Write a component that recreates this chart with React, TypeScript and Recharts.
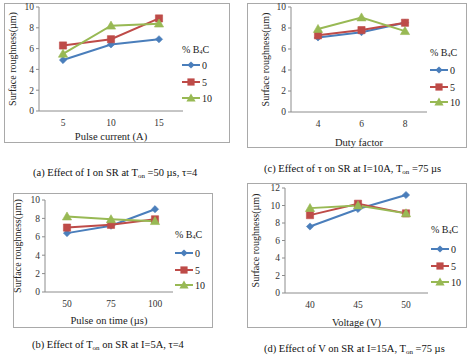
import React from "react";
import { LineChart, Line, XAxis, YAxis } from "recharts";

// % B4C levels
const seriesNames = ["0", "5", "10"];

const currentTicks = ["5", "10", "15"];
const current0 = [4.9, 6.4, 6.9];
const current5 = [6.3, 6.9, 8.9];
const current10 = [5.5, 8.2, 8.4];

const dutyTicks = ["4", "6", "8"];
const duty0 = [7.1, 7.6, 8.5];
const duty5 = [7.3, 7.8, 8.5];
const duty10 = [7.9, 9.0, 7.7];

const onTimeTicks = ["50", "75", "100"];
const onTime0 = [6.4, 7.2, 9.0];
const onTime5 = [7.0, 7.3, 7.9];
const onTime10 = [8.2, 7.9, 7.7];

const voltTicks = ["40", "45", "50"];
const volt0 = [7.6, 9.6, 11.2];
const volt5 = [8.9, 10.2, 9.1];
const volt10 = [9.7, 10.0, 9.1];

const COLORS = ["#4a7ebb", "#be4b48", "#98b954"];
const FONT = "'Liberation Serif', 'Times New Roman', serif";

type Shape = "diamond" | "square" | "triangle";
const SHAPES: Shape[] = ["diamond", "square", "triangle"];

function markerPath(shape: Shape, cx: number, cy: number) {
  if (shape === "diamond") {
    const r = 3.6;
    return `M${cx},${cy - r}L${cx + r},${cy}L${cx},${cy + r}L${cx - r},${cy}Z`;
  }
  if (shape === "square") {
    const h = 3.6;
    return `M${cx - h},${cy - h}H${cx + h}V${cy + h}H${cx - h}Z`;
  }
  return `M${cx},${cy - 4.6}L${cx + 4.6},${cy + 3.4}L${cx - 4.6},${cy + 3.4}Z`;
}

function makeDot(shape: Shape, color: string) {
  return (props: any) => {
    const { cx, cy, index } = props;
    if (cx == null || cy == null) return <g key={`d-${index}`} />;
    return (
      <path
        key={`d-${index}`}
        d={markerPath(shape, cx, cy)}
        fill={color}
        stroke={color}
        strokeWidth={0.6}
      />
    );
  };
}

function buildRows(ticks: string[], a: number[], b: number[], c: number[]) {
  return ticks.map((t, i) => ({ x: t, s0: a[i], s5: b[i], s10: c[i] }));
}

interface PanelLayout {
  frame: { x: number; y: number; w: number; h: number };
  plotLeft: number;
  plotRight: number;
  plotTop: number;
  plotBottom: number;
  firstPoint: number;
  lastPoint: number;
  xTitleY: number;
  yTitleX: number;
  legendX: number;
  legendTitleY: number;
  legendItemY: number[];
  captionY: number;
  captionX: number;
}

const YW = 30;

function Panel({
  layout,
  rows,
  xTitle,
  yMax,
}: {
  layout: PanelLayout;
  rows: Array<Record<string, unknown>>;
  xTitle: string;
  yMax: number;
}) {
  const f = layout.frame;
  const xh = f.y + f.h - layout.plotBottom;
  const margin = {
    top: layout.plotTop - f.y,
    left: layout.plotLeft - f.x - YW,
    right: f.x + f.w - layout.plotRight,
    bottom: 0,
  };
  const yTicks: number[] = [];
  for (let v = 0; v <= yMax; v += 2) yTicks.push(v);
  const tickStyle = { fill: "#333", fontSize: 9.5, fontFamily: FONT };
  const keys = ["s0", "s5", "s10"];

  return (
    <>
      <div
        style={{
          position: "absolute",
          left: f.x,
          top: f.y,
          width: f.w - 2,
          height: f.h - 2,
          border: "1px solid #a9a9a9",
        }}
      />
      <div style={{ position: "absolute", left: f.x, top: f.y }}>
        <LineChart width={f.w} height={f.h} data={rows} margin={margin}>
          <XAxis
            dataKey="x"
            height={xh}
            padding={{
              left: layout.firstPoint - layout.plotLeft,
              right: layout.plotRight - layout.lastPoint,
            }}
            stroke="#8c8c8c"
            tickLine={false}
            tick={tickStyle}
            label={{
              value: xTitle,
              position: "insideBottom",
              offset: xh - (layout.xTitleY + 4 - layout.plotBottom),
              style: { fill: "#222", fontSize: 10.5, fontFamily: FONT },
            }}
          />
          <YAxis
            width={YW}
            domain={[0, yMax]}
            ticks={yTicks}
            interval={0}
            stroke="#8c8c8c"
            tickSize={3}
            tickMargin={2}
            tick={tickStyle}
            label={{
              value: "Surface roughness(µm)",
              angle: -90,
              position: "insideLeft",
              offset: layout.yTitleX - (layout.plotLeft - YW),
              style: { fill: "#222", fontSize: 10, fontFamily: FONT, textAnchor: "middle" },
            }}
          />
          {keys.map((k, i) => (
            <Line
              key={k}
              dataKey={k}
              name={seriesNames[i]}
              type="linear"
              stroke={COLORS[i]}
              strokeWidth={2}
              dot={makeDot(SHAPES[i], COLORS[i])}
              activeDot={false}
              isAnimationActive={false}
            />
          ))}
        </LineChart>
      </div>
      <div
        style={{
          position: "absolute",
          left: layout.legendX,
          top: layout.legendTitleY - 6,
          fontFamily: FONT,
          fontSize: 10,
          color: "#222",
          whiteSpace: "nowrap",
          lineHeight: "12px",
        }}
      >
        % B<sub style={{ fontSize: 6, verticalAlign: "-1px" }}>4</sub>C
      </div>
      {seriesNames.map((n, i) => (
        <div
          key={n}
          style={{
            position: "absolute",
            left: layout.legendX,
            top: layout.legendItemY[i] - 6,
            height: 12,
            display: "flex",
            alignItems: "center",
            fontFamily: FONT,
            fontSize: 10,
            color: "#222",
          }}
        >
          <svg width={18} height={12} style={{ display: "block" }}>
            <line x1={0} y1={6} x2={18} y2={6} stroke={COLORS[i]} strokeWidth={2} />
            <path d={markerPath(SHAPES[i], 9, 6)} fill={COLORS[i]} />
          </svg>
          <span style={{ marginLeft: 2 }}>{n}</span>
        </div>
      ))}
    </>
  );
}

function Caption({ x, y, children }: { x: number; y: number; children: React.ReactNode }) {
  return (
    <div
      style={{
        position: "absolute",
        left: x,
        top: y - 7,
        fontFamily: FONT,
        fontSize: 10.5,
        color: "#111",
        whiteSpace: "nowrap",
        lineHeight: "14px",
      }}
    >
      {children}
    </div>
  );
}

const sub = (t: string) => <sub style={{ fontSize: 7, verticalAlign: "-2px" }}>{t}</sub>;

const layoutA: PanelLayout = {
  frame: { x: 4, y: 3, w: 226, h: 140 },
  plotLeft: 39,
  plotRight: 183,
  plotTop: 7,
  plotBottom: 111,
  firstPoint: 63,
  lastPoint: 159,
  xTitleY: 136,
  yTitleX: 12,
  legendX: 182,
  legendTitleY: 50,
  legendItemY: [65, 82, 98],
  captionY: 173,
  captionX: 33,
};

const layoutC: PanelLayout = {
  frame: { x: 247, y: 3, w: 220, h: 145 },
  plotLeft: 291,
  plotRight: 427,
  plotTop: 7,
  plotBottom: 112,
  firstPoint: 318,
  lastPoint: 405,
  xTitleY: 142,
  yTitleX: 265,
  legendX: 430,
  legendTitleY: 53,
  legendItemY: [70, 87, 102],
  captionY: 169,
  captionX: 264,
};

const layoutB: PanelLayout = {
  frame: { x: 13, y: 193, w: 200, h: 135 },
  plotLeft: 45,
  plotRight: 173,
  plotTop: 200,
  plotBottom: 292,
  firstPoint: 67,
  lastPoint: 155,
  xTitleY: 320,
  yTitleX: 17,
  legendX: 175,
  legendTitleY: 235,
  legendItemY: [253, 270, 285],
  captionY: 345,
  captionX: 32,
};

const layoutD: PanelLayout = {
  frame: { x: 247, y: 183, w: 220, h: 145 },
  plotLeft: 285,
  plotRight: 428,
  plotTop: 188,
  plotBottom: 293,
  firstPoint: 310,
  lastPoint: 406,
  xTitleY: 322,
  yTitleX: 255,
  legendX: 431,
  legendTitleY: 230,
  legendItemY: [249, 266, 282],
  captionY: 349,
  captionX: 264,
};

export default function App() {
  return (
    <div
      style={{
        position: "absolute",
        left: 0,
        top: 0,
        width: 474,
        height: 361,
        background: "#fff",
        overflow: "hidden",
      }}
    >
      <Panel
        layout={layoutA}
        rows={buildRows(currentTicks, current0, current5, current10)}
        xTitle="Pulse current (A)"
        yMax={10}
      />
      <Panel
        layout={layoutC}
        rows={buildRows(dutyTicks, duty0, duty5, duty10)}
        xTitle="Duty factor"
        yMax={10}
      />
      <Panel
        layout={layoutB}
        rows={buildRows(onTimeTicks, onTime0, onTime5, onTime10)}
        xTitle="Pulse on time (µs)"
        yMax={10}
      />
      <Panel
        layout={layoutD}
        rows={buildRows(voltTicks, volt0, volt5, volt10)}
        xTitle="Voltage (V)"
        yMax={12}
      />
      <Caption x={layoutA.captionX} y={layoutA.captionY}>
        (a) Effect of I on SR at T{sub("on")} =50 µs, τ=4
      </Caption>
      <Caption x={layoutC.captionX} y={layoutC.captionY}>
        (c) Effect of τ on SR at I=10A, T{sub("on")} =75 µs
      </Caption>
      <Caption x={layoutB.captionX} y={layoutB.captionY}>
        (b) Effect of T{sub("on")} on SR at I=5A, τ=4
      </Caption>
      <Caption x={layoutD.captionX} y={layoutD.captionY}>
        (d) Effect of V on SR at I=15A, T{sub("on")} =75 µs
      </Caption>
    </div>
  );
}
